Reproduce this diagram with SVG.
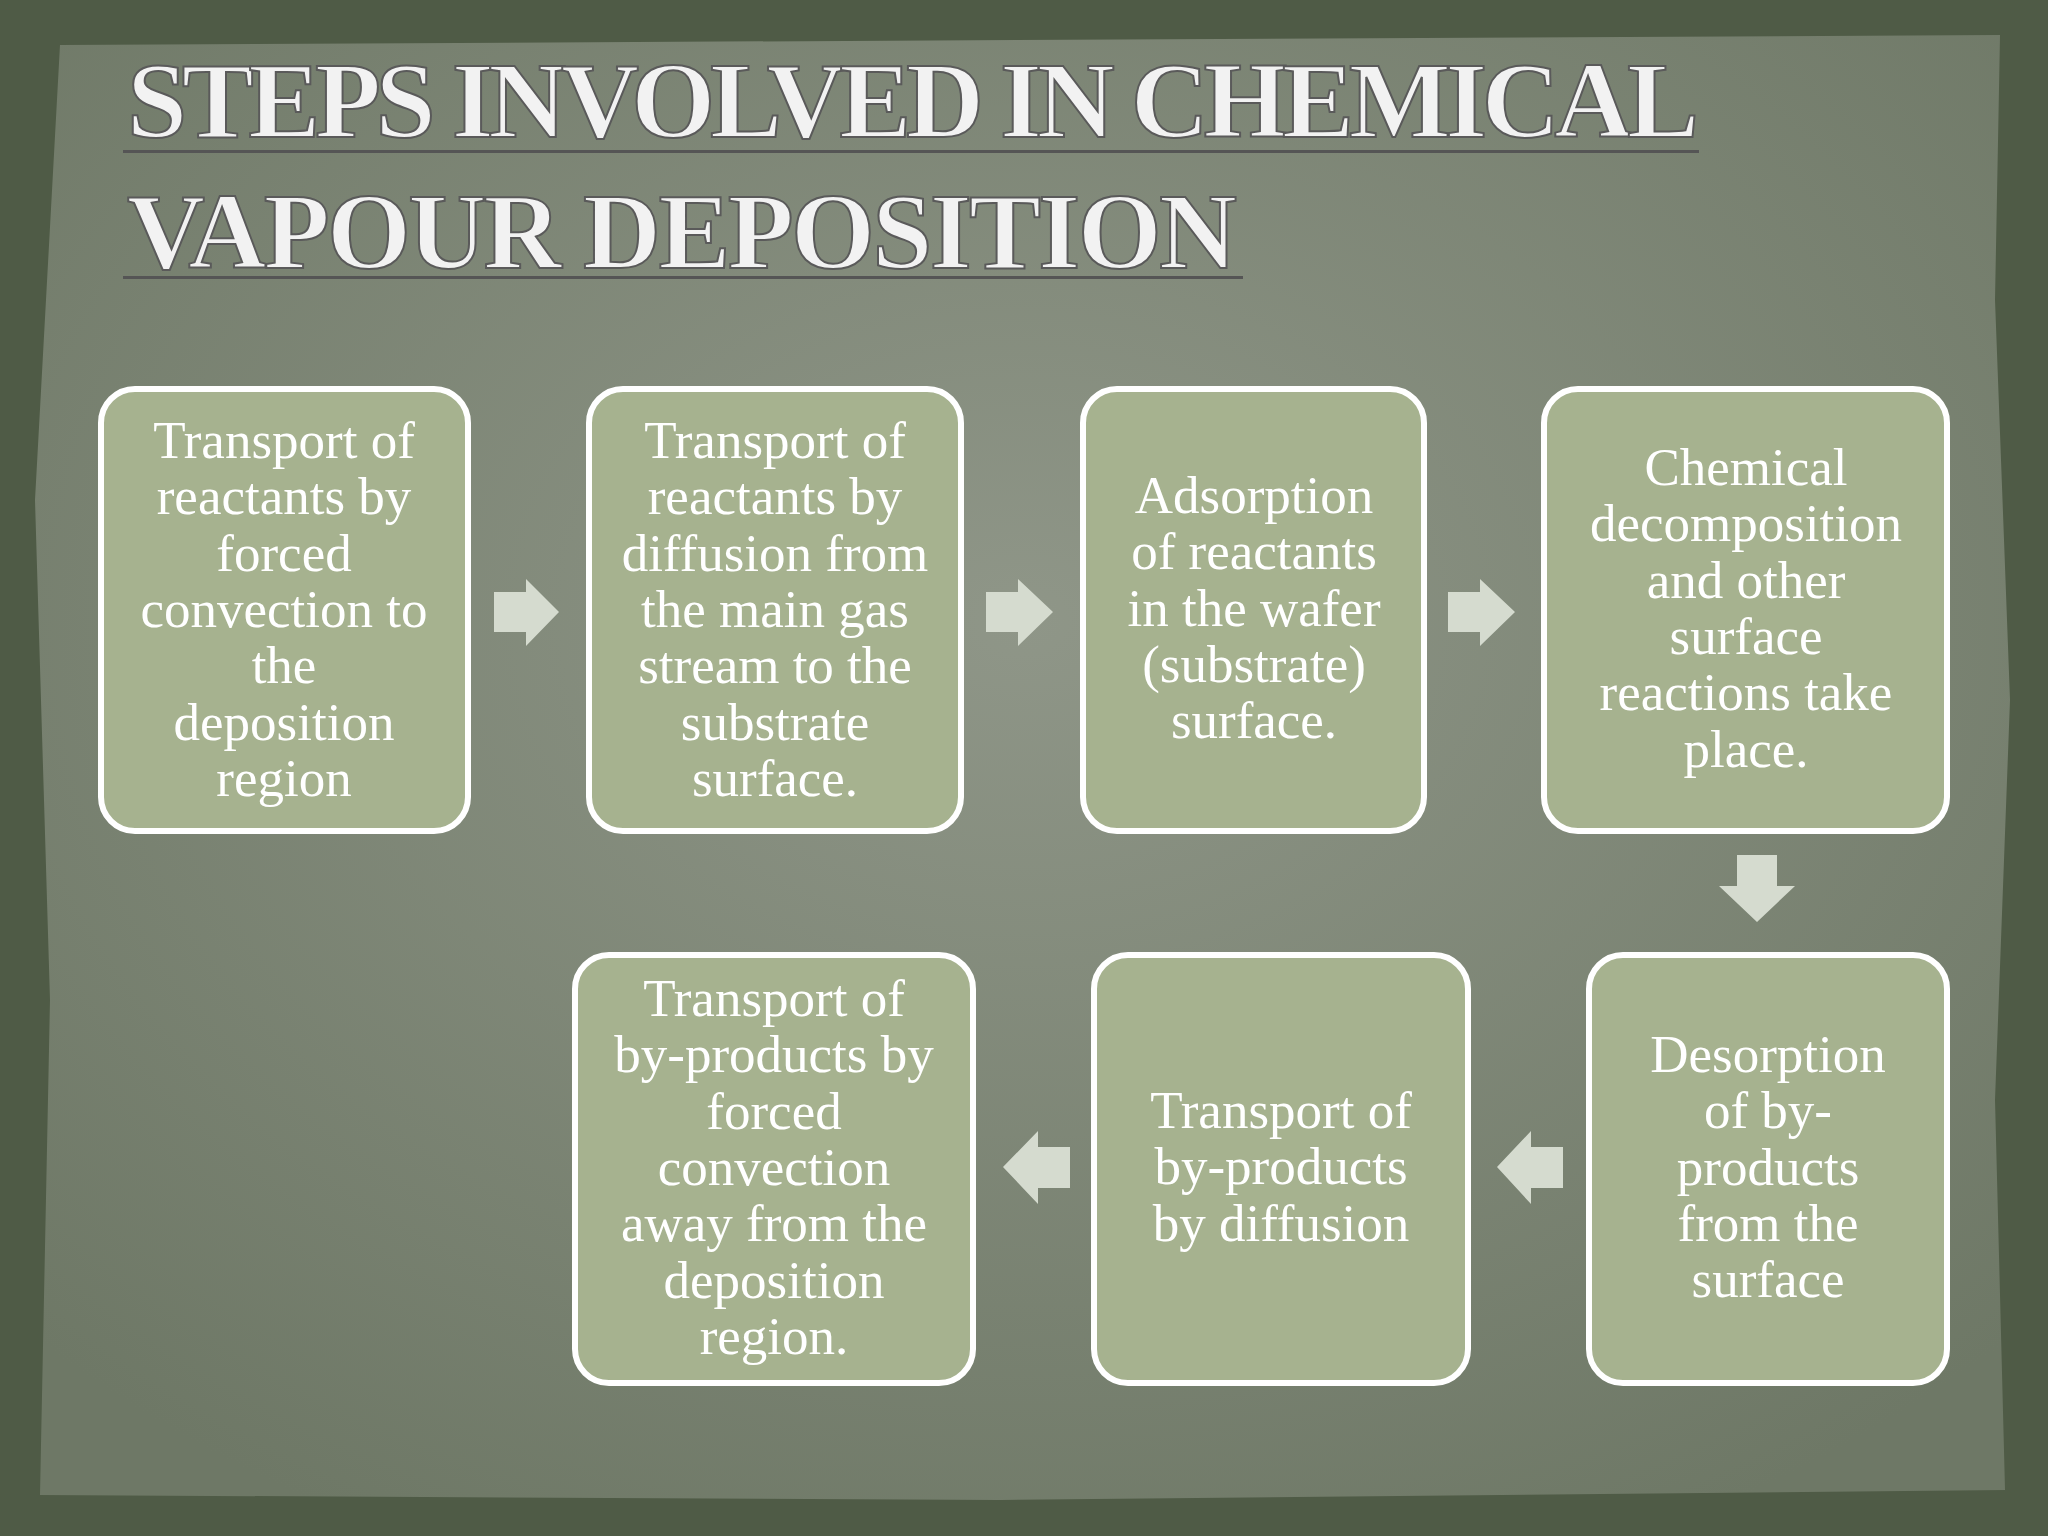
<svg xmlns="http://www.w3.org/2000/svg" width="2048" height="1536" viewBox="0 0 2048 1536">
<defs>
<radialGradient id="bg" cx="0.5" cy="0.4" r="0.7">
<stop offset="0" stop-color="#8f9688"/><stop offset="1" stop-color="#6e7866"/>
</radialGradient>
<style>
.box rect{fill:#a6b28f;stroke:#ffffff;stroke-width:6}
.box text{font-family:"Liberation Serif",serif;font-size:53px;fill:#ffffff;text-anchor:middle}
.arr{fill:#d5dbcf}
.title{font-family:"Liberation Serif",serif;font-weight:bold;font-size:108px;fill:#f2f2f2;stroke:#5a5a5a;stroke-width:2}
</style>
</defs>
<rect width="2048" height="1536" fill="#4f5b46"/>
<path d="M60 45 L2000 35 L1995 300 L2010 700 L1995 1100 L2005 1490 L1000 1500 L40 1495 L50 1000 L35 500 Z" fill="url(#bg)"/>
<text class="title" x="127" y="137" textLength="1572">STEPS INVOLVED IN CHEMICAL</text>
<text class="title" x="127" y="268" textLength="1110">VAPOUR DEPOSITION</text>
<rect x="123" y="150" width="1576" height="3" fill="#555"/>
<rect x="123" y="276" width="1120" height="3" fill="#555"/>
<g id="connectors">
<polygon class="arr" points="494,592 526,592 526,579 559,612 526,646 526,632 494,632"/>
<polygon class="arr" points="986,592 1018,592 1018,579 1053,612 1018,646 1018,632 986,632"/>
<polygon class="arr" points="1448,592 1480,592 1480,579 1515,612 1480,646 1480,632 1448,632"/>
<polygon class="arr" points="1737,855 1777,855 1777,886 1795,886 1757,922 1719,886 1737,886"/>
<polygon class="arr" points="1563,1147 1531,1147 1531,1131 1497,1167 1531,1204 1531,1188 1563,1188"/>
<polygon class="arr" points="1070,1147 1038,1147 1038,1131 1003,1167 1038,1204 1038,1188 1070,1188"/>
</g>
<g id="n1" class="box"><rect x="101" y="389" width="367" height="442" rx="34"/>
<text x="284" y="458">Transport of</text><text x="284" y="514">reactants by</text><text x="284" y="571">forced</text><text x="284" y="627">convection to</text><text x="284" y="683">the</text><text x="284" y="740">deposition</text><text x="284" y="796">region</text></g>
<g id="n2" class="box"><rect x="589" y="389" width="372" height="442" rx="34"/>
<text x="775" y="458">Transport of</text><text x="775" y="514">reactants by</text><text x="775" y="571">diffusion from</text><text x="775" y="627">the main gas</text><text x="775" y="683">stream to the</text><text x="775" y="740">substrate</text><text x="775" y="796">surface.</text></g>
<g id="n3" class="box"><rect x="1083" y="389" width="341" height="442" rx="34"/>
<text x="1254" y="513">Adsorption</text><text x="1254" y="569">of reactants</text><text x="1254" y="626">in the wafer</text><text x="1254" y="682">(substrate)</text><text x="1254" y="738">surface.</text></g>
<g id="n4" class="box"><rect x="1544" y="389" width="403" height="442" rx="34"/>
<text x="1746" y="485">Chemical</text><text x="1746" y="541">decomposition</text><text x="1746" y="598">and other</text><text x="1746" y="654">surface</text><text x="1746" y="710">reactions take</text><text x="1746" y="767">place.</text></g>
<g id="n5" class="box"><rect x="1589" y="955" width="358" height="428" rx="34"/>
<text x="1768" y="1072">Desorption</text><text x="1768" y="1128">of by-</text><text x="1768" y="1185">products</text><text x="1768" y="1241">from the</text><text x="1768" y="1297">surface</text></g>
<g id="n6" class="box"><rect x="1094" y="955" width="374" height="428" rx="34"/>
<text x="1281" y="1128">Transport of</text><text x="1281" y="1184">by-products</text><text x="1281" y="1241">by diffusion</text></g>
<g id="n7" class="box"><rect x="575" y="955" width="398" height="428" rx="34"/>
<text x="774" y="1016">Transport of</text><text x="774" y="1072">by-products by</text><text x="774" y="1129">forced</text><text x="774" y="1185">convection</text><text x="774" y="1241">away from the</text><text x="774" y="1298">deposition</text><text x="774" y="1354">region.</text></g>
</svg>
